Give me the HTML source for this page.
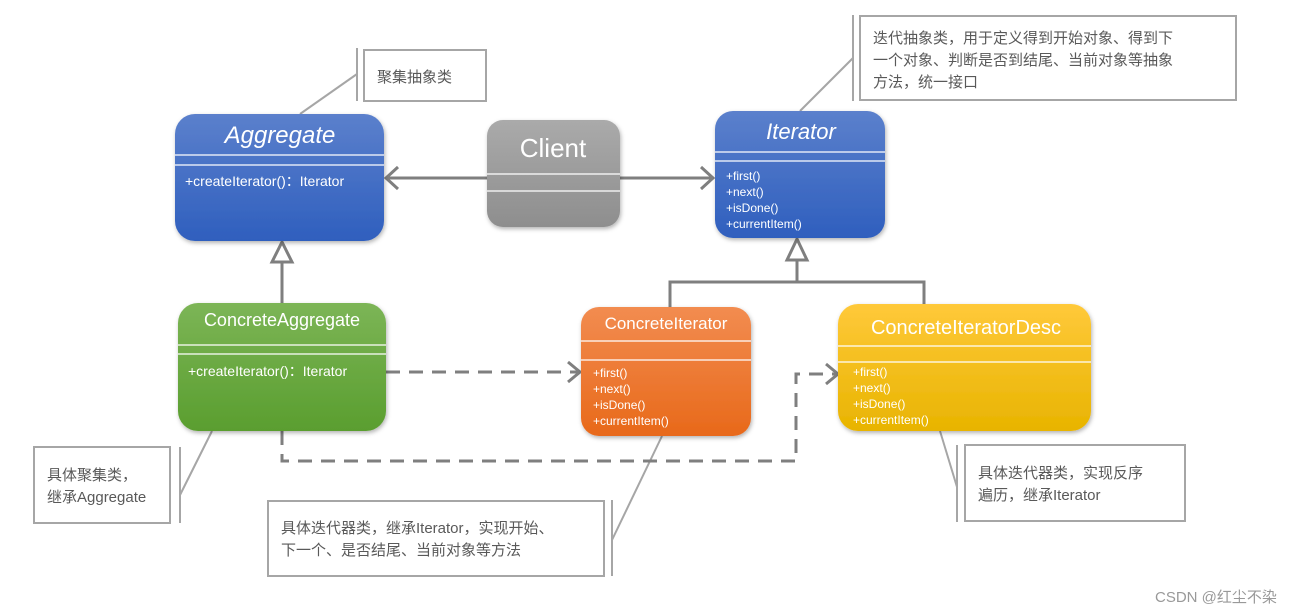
<!DOCTYPE html>
<html><head><meta charset="utf-8"><style>
html,body{margin:0;padding:0;background:#fff;}
svg{display:block;font-family:"Liberation Sans","Noto Sans CJK SC",sans-serif;}
</style></head><body>
<svg width="1306" height="614" viewBox="0 0 1306 614" xmlns="http://www.w3.org/2000/svg">
<defs>
<linearGradient id="gb" x1="0" y1="0" x2="0" y2="1"><stop offset="0" stop-color="#5b80cc"/><stop offset="1" stop-color="#2f5fbe"/></linearGradient>
<linearGradient id="gg" x1="0" y1="0" x2="0" y2="1"><stop offset="0" stop-color="#aaaaaa"/><stop offset="1" stop-color="#8e8e8e"/></linearGradient>
<linearGradient id="ggr" x1="0" y1="0" x2="0" y2="1"><stop offset="0" stop-color="#7cb556"/><stop offset="1" stop-color="#5a9e2f"/></linearGradient>
<linearGradient id="go" x1="0" y1="0" x2="0" y2="1"><stop offset="0" stop-color="#f28c50"/><stop offset="1" stop-color="#e8691a"/></linearGradient>
<linearGradient id="gy" x1="0" y1="0" x2="0" y2="1"><stop offset="0" stop-color="#ffc93a"/><stop offset="1" stop-color="#e8b400"/></linearGradient>
<filter id="sh" x="-10%" y="-10%" width="130%" height="130%"><feDropShadow dx="1" dy="2" stdDeviation="2" flood-color="#000" flood-opacity="0.3"/></filter>
</defs>

<g stroke="#a6a6a6" stroke-width="2" fill="none">
<line x1="300" y1="114" x2="357" y2="74"/><line x1="357" y1="48" x2="357" y2="101"/>
<rect x="364" y="50" width="122" height="51"/>
<line x1="800" y1="111" x2="853" y2="58"/><line x1="853" y1="15" x2="853" y2="101"/>
<rect x="860" y="16" width="376" height="84"/>
<line x1="180" y1="495" x2="212" y2="431"/><line x1="180" y1="447" x2="180" y2="523"/>
<rect x="34" y="447" width="136" height="76"/>
<line x1="612" y1="540" x2="662" y2="436"/><line x1="612" y1="500" x2="612" y2="576"/>
<rect x="268" y="501" width="336" height="75"/>
<line x1="957" y1="487" x2="940" y2="431"/><line x1="957" y1="445" x2="957" y2="522"/>
<rect x="965" y="445" width="220" height="76"/>
</g>
<g font-size="15" fill="#595959">
<text x="377" y="82">聚集抽象类</text>
<text x="873" y="43">迭代抽象类，用于定义得到开始对象、得到下</text>
<text x="873" y="65">一个对象、判断是否到结尾、当前对象等抽象</text>
<text x="873" y="87">方法，统一接口</text>
<text x="47" y="480">具体聚集类，</text>
<text x="47" y="502">继承Aggregate</text>
<text x="281" y="533">具体迭代器类，继承Iterator，实现开始、</text>
<text x="281" y="555">下一个、是否结尾、当前对象等方法</text>
<text x="978" y="478">具体迭代器类，实现反序</text>
<text x="978" y="500">遍历，继承Iterator</text>
</g>
<text x="1155" y="602" font-size="15" fill="#999">CSDN @红尘不染</text>

<g stroke="#7f7f7f" stroke-width="3" fill="none">
<line x1="487" y1="178" x2="386" y2="178"/><polyline points="398,167 386,178 398,189"/>
<line x1="620" y1="178" x2="713" y2="178"/><polyline points="701,167 713,178 701,189"/>
<line x1="282" y1="262" x2="282" y2="303"/><polygon points="282,242 272,262 292,262" fill="#fff"/>
<polyline points="670,307 670,282 924,282 924,304"/><line x1="797" y1="260" x2="797" y2="282"/>
<polygon points="797,239 787,260 807,260" fill="#fff"/>
<g stroke-dasharray="14,9"><line x1="386" y1="372" x2="578" y2="372"/>
<polyline points="282,431 282,461 796,461 796,374 836,374"/></g>
<polyline points="568,362 580,372 568,382"/><polyline points="826,364 838,374 826,384"/>
</g>

<g filter="url(#sh)">
<rect x="175" y="114" width="209" height="127" rx="20" fill="url(#gb)"/>
<rect x="487" y="120" width="133" height="107" rx="16" fill="url(#gg)"/>
<rect x="715" y="111" width="170" height="127" rx="18" fill="url(#gb)"/>
<rect x="178" y="303" width="208" height="128" rx="20" fill="url(#ggr)"/>
<rect x="581" y="307" width="170" height="129" rx="18" fill="url(#go)"/>
<rect x="838" y="304" width="253" height="127" rx="20" fill="url(#gy)"/>
</g>
<g stroke="#fff" stroke-width="1.3">
<line x1="175" y1="155" x2="384" y2="155"/><line x1="175" y1="165" x2="384" y2="165"/>
<line x1="487" y1="174" x2="620" y2="174"/><line x1="487" y1="191" x2="620" y2="191"/>
<line x1="715" y1="152" x2="885" y2="152"/><line x1="715" y1="161" x2="885" y2="161"/>
<line x1="178" y1="345" x2="386" y2="345"/><line x1="178" y1="354" x2="386" y2="354"/>
<line x1="581" y1="341" x2="751" y2="341"/><line x1="581" y1="360" x2="751" y2="360"/>
<line x1="838" y1="346" x2="1091" y2="346"/><line x1="838" y1="362" x2="1091" y2="362"/>
</g>
<g fill="#fff">
<text x="280" y="143" font-size="24" font-style="italic" text-anchor="middle">Aggregate</text>
<text x="185" y="186" font-size="14">+createIterator()：Iterator</text>
<text x="553" y="157" font-size="26" text-anchor="middle">Client</text>
<text x="801" y="139" font-size="22" font-style="italic" text-anchor="middle">Iterator</text>
<g font-size="12"><text x="726" y="180">+first()</text><text x="726" y="196">+next()</text><text x="726" y="212">+isDone()</text><text x="726" y="228">+currentItem()</text></g>
<text x="282" y="326" font-size="18" text-anchor="middle">ConcreteAggregate</text>
<text x="188" y="376" font-size="14">+createIterator()：Iterator</text>
<text x="666" y="329" font-size="17" text-anchor="middle">ConcreteIterator</text>
<g font-size="12"><text x="593" y="377">+first()</text><text x="593" y="393">+next()</text><text x="593" y="409">+isDone()</text><text x="593" y="425">+currentItem()</text></g>
<text x="966" y="334" font-size="20" text-anchor="middle">ConcreteIteratorDesc</text>
<g font-size="12"><text x="853" y="376">+first()</text><text x="853" y="392">+next()</text><text x="853" y="408">+isDone()</text><text x="853" y="424">+currentItem()</text></g>
</g>
</svg>
</body></html>
